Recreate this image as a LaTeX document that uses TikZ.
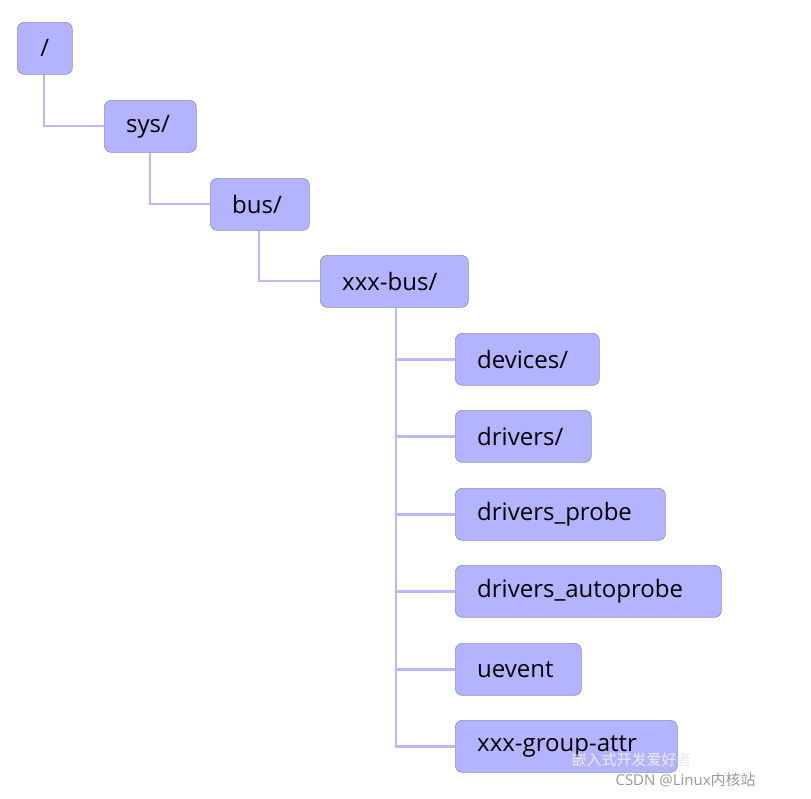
\documentclass[tikz,border=0pt]{standalone}
\usepackage{fontspec}
\setmainfont{Open Sans}
\newfontfamily\cjk{Noto Sans CJK SC}
\definecolor{boxfill}{HTML}{B3B3FF}
\definecolor{boxline}{HTML}{9090C8}
\definecolor{conn}{HTML}{B8B8FF}
\begin{document}
\begin{tikzpicture}[x=1pt,y=-1pt,
  dirbox/.style={draw=boxline,fill=boxfill,rounded corners=7pt,anchor=north west,inner sep=0pt,line width=0.7pt},
  dirtext/.style={anchor=west,inner sep=0pt,font=\fontsize{24}{28}\selectfont,text=black},
  link/.style={draw=conn,line width=2.6pt}]
\useasboundingbox (0,0) rectangle (811,798);
\fill[white] (0,0) rectangle (811,798);
\newcommand\bx[6]{\node[dirbox,minimum width=#4pt,minimum height=#5pt] (#1) at (#2,#3) {};
  \node[dirtext] (#1t) at ([xshift=22pt]#1.west) {#6};}
\path[link] (44,74) |- (104,126);
\path[link] (150,152) |- (210,204);
\path[link] (259,230) |- (320,281);
\node[dirbox,minimum width=55pt,minimum height=52pt] (root) at (17,22) {};
\node[dirtext,anchor=center] (roott) at (root.center) {/};
\bx{sys}{104}{100}{92}{52}{sys/}
\bx{bus}{210}{178}{99}{52}{bus/}
\bx{xbus}{320}{255}{148}{52}{xxx-bus/}
\bx{dev}{455}{333}{144}{52}{devices/}
\bx{drv}{455}{410}{136}{52}{drivers/}
\bx{prb}{455}{488}{210}{52}{drivers\_probe}
\bx{aprb}{455}{565}{266}{52}{drivers\_autoprobe}
\bx{uev}{455}{643}{126}{52}{uevent}
\bx{grp}{455}{720}{222}{52}{xxx-group-attr}
\foreach \c in {dev,drv,prb,aprb,uev,grp}{
  \path[link] ([xshift=76pt]xbus.south west) |- (\c.west);
}
\node[text=gray!15,font=\cjk\fontsize{15}{17}\selectfont,anchor=west] (wm1) at (568,760) {嵌入式开发爱好者};
\node[text=gray!80,font=\fontsize{15}{17}\selectfont,anchor=west] (wm2) at (612,780) {CSDN @Linux\cjk 内核站};
\end{tikzpicture}
\end{document}
